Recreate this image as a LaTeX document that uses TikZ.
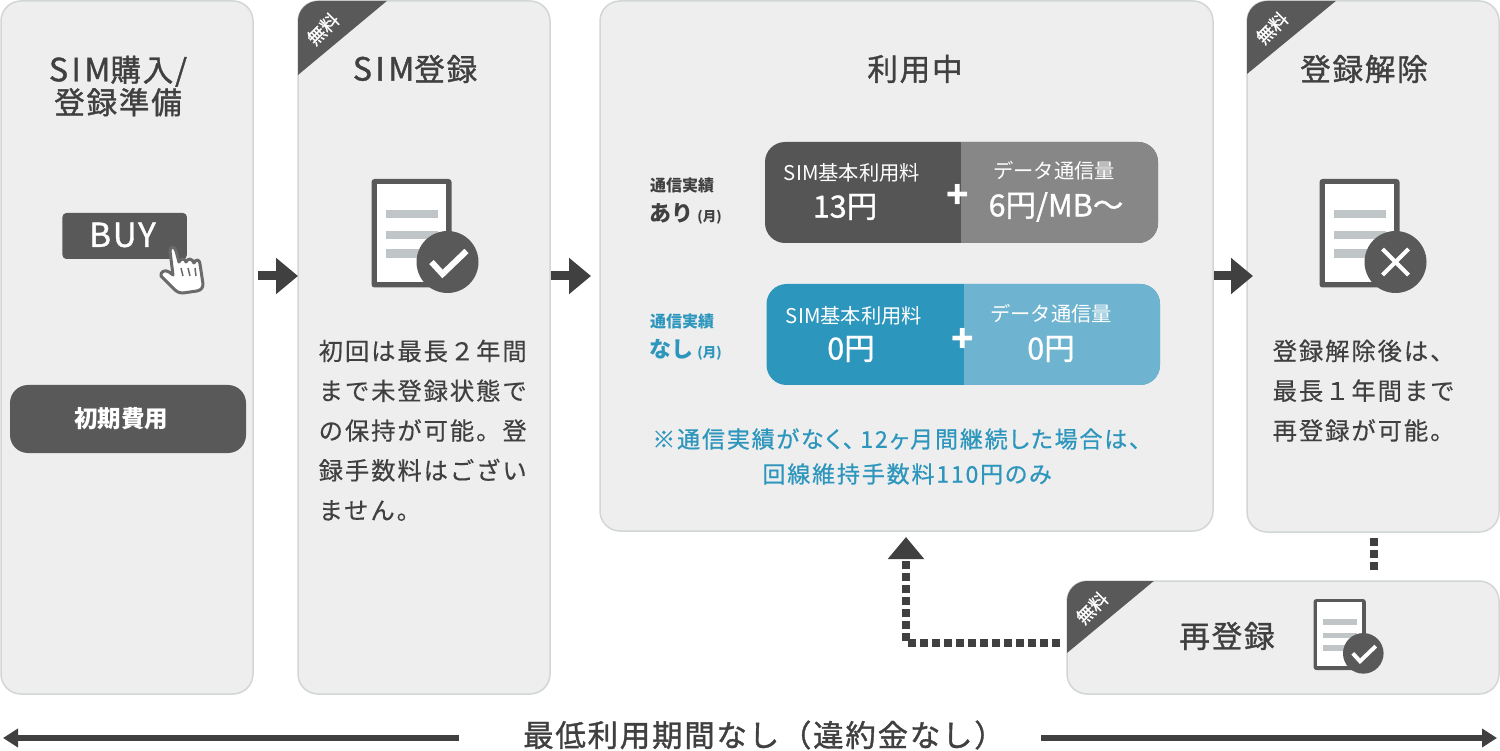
\documentclass[tikz,border=0pt]{standalone}
\usepackage{fontspec}
\setmainfont{Noto Sans CJK JP}
\newfontfamily\jptitle[LetterSpace=6,FakeBold=1.2]{Noto Sans CJK JP}
\newfontfamily\jpsim[LetterSpace=11,FakeBold=1.2]{Noto Sans CJK JP}
\newfontfamily\jpbody[LetterSpace=8,FakeBold=0.4]{Noto Sans CJK JP}
\newfontfamily\jpnote[LetterSpace=8,FakeBold=0.7,RawFeature=+palt]{Noto Sans CJK JP}
\newfontfamily\jpval[FakeBold=1]{Noto Sans CJK JP}
\usetikzlibrary{arrows.meta,calc}
\definecolor{cardfill}{HTML}{EEEEEE}
\definecolor{cardline}{HTML}{D2D6D6}
\definecolor{ink}{HTML}{404040}
\definecolor{dark}{HTML}{595959}
\definecolor{midgrey}{HTML}{878787}
\definecolor{blue1}{HTML}{2D96BD}
\definecolor{blue2}{HTML}{6EB3CF}
\definecolor{barline}{HTML}{C0C6C8}
\tikzset{
  card/.style={draw=cardline,fill=cardfill,line width=1.5pt,rounded corners=20pt,anchor=north west,inner sep=0pt,outer sep=0pt},
  title/.style={text=ink,font=\jptitle\fontsize{30.5}{33}\selectfont,align=center,inner sep=0pt},
  body/.style={text=ink,font=\jpbody\fontsize{24.3}{39.8}\selectfont,align=left,anchor=north west,inner sep=0pt},
  ribbon/.style={fill=dark,draw=none},
  free/.style={text=white,font=\jpval\fontsize{18}{18}\selectfont,rotate=45,inner sep=0pt},
  flow/.style={draw=ink,line width=9pt,-{Triangle[length=22pt,width=35pt]}},
  dots/.style={draw=ink,line width=8pt,dash pattern=on 8pt off 4pt},
  span/.style={draw=ink,line width=6pt,-{Triangle[length=15pt,width=18pt]}},
  pillhead/.style={text=white,font=\fontsize{20.3}{22}\selectfont,inner sep=0pt},
  pillval/.style={text=white,font=\jpval\fontsize{30.5}{32}\selectfont,inner sep=0pt},
  plusmark/.style={text=white,font=\bfseries\fontsize{37}{37}\selectfont,inner sep=0pt},
  tag/.style={font=\bfseries\fontsize{16}{17}\selectfont,inner sep=0pt},
  tagbig/.style={font=\bfseries\fontsize{22}{24}\selectfont,inner sep=0pt},
  tagsmall/.style={font=\bfseries\fontsize{13.5}{15}\selectfont,inner sep=0pt},
}
\newcommand{\simword}{{\jpsim\fontsize{32}{32}\selectfont SIM}}
\newcommand{\docicon}[4]{%
  \begin{scope}[shift={(#1,#2)},scale=#3]
    \fill[dark,rounded corners=3pt] (0,0) rectangle (80,108.5);
    \fill[white] (5.5,5) rectangle (74.5,103);
    \fill[barline] (14,31) rectangle (66,39.5);
    \fill[barline] (14,52) rectangle (66,60);
    \fill[barline] (14,70) rectangle (66,79);
    \fill[dark] (76,83) circle (31);
    \begin{scope}[shift={(76,83)}]
      #4
    \end{scope}
  \end{scope}}
\newcommand{\checkglyph}[1]{\draw[white,line width=#1*6pt] (-16,0) -- (-5,12) -- (19,-11);}
\newcommand{\crossglyph}[1]{\draw[white,line width=#1*4pt] (-13,-13) -- (13,13) (-13,13) -- (13,-13);}
\begin{document}
\begin{tikzpicture}[x=1pt,y=-1pt]
\useasboundingbox (0,0) rectangle (1500,751);
\fill[white] (0,0) rectangle (1500,751);
\coordinate (y276) at (0,276);
\coordinate (y643) at (0,643);
\coordinate (y738) at (0,738);
\coordinate (x906) at (906,0);
\coordinate (x1374) at (1374,0);
\coordinate (spanL) at (3,738);
\coordinate (spanR) at (1497,738);

% cards
\node[card,minimum width=252pt,minimum height=693pt] (card1) at (1,1) {};
\node[card,minimum width=252pt,minimum height=693pt] (card2) at (298,1) {};
\node[card,minimum width=613pt,minimum height=530pt] (card3) at (600,1) {};
\node[card,minimum width=252pt,minimum height=531pt] (card4) at (1247,1) {};
\node[card,minimum width=432pt,minimum height=113pt] (card5) at (1067,581) {};

% free ribbons
\begin{scope}
  \clip[rounded corners=20pt] (298,1) rectangle (550,694);
  \fill[ribbon] (298,0) -- (388,0) -- (298,75) -- cycle;
\end{scope}
\begin{scope}
  \clip[rounded corners=20pt] (1247,1) rectangle (1499,532);
  \fill[ribbon] (1247,0) -- (1337,0) -- (1247,74) -- cycle;
\end{scope}
\begin{scope}
  \clip[rounded corners=20pt] (1067,581) rectangle (1499,694);
  \fill[ribbon] (1067,580) -- (1155,580) -- (1067,653) -- cycle;
\end{scope}
\node[free] (free1) at (323,29) {無料};
\node[free] (free2) at (1272,28) {無料};
\node[free] (free3) at (1092,608) {無料};

% titles
\node[title] (t1) at (118,86) {\simword 購入/\\[-0.5pt]登録準備};
\node[title] (t2) at (415,69) {\simword 登録};
\node[title] (t3) at (915,69) {利用中};
\node[title] (t4) at (1364,69) {登録解除};
\node[title] (t5) at (1227,636) {再登録};

% card 1 content
\node[fill=dark,rounded corners=4pt,minimum width=124.5pt,minimum height=46pt,inner sep=0pt] (buy) at (124.7,236) {};
\node[text=white,inner sep=0pt,font=\jptitle\fontsize{33}{33}\selectfont] (buytext) at (122.5,235) {BUY};
\draw[fill=white,draw=dark!90,line width=3pt,line join=round]
  (170,251) .. controls (170,246) and (175,246) .. (176,251)
  -- (179,262) .. controls (181,258) and (185,258) .. (186,262)
  .. controls (188,258) and (192,258) .. (194,263)
  .. controls (196,258) and (200,260) .. (200,264)
  -- (203,284) .. controls (203,288) and (201,290) .. (197,291)
  -- (183,293) .. controls (178,293) and (176,291) .. (173,288)
  -- (161,276) .. controls (160,272) and (165,269) .. (169,272)
  -- (173,275) -- cycle;
\draw[draw=dark!90,line width=1.5pt] (181,268) -- (183,276) (188,268) -- (190,276) (195,268) -- (196,276);
\node[fill=dark,rounded corners=18pt,minimum width=236pt,minimum height=68pt,inner sep=0pt] (fee) at (128,419) {};
\node[text=white,inner sep=0pt,font=\bfseries\fontsize{23.5}{25}\selectfont] (feetext) at (121,419) {初期費用};

% icons
\docicon{371.5}{179}{1}{\checkglyph{1}}
\docicon{1319.5}{179}{1}{\crossglyph{1}}
\docicon{1313.5}{599}{0.655}{\checkglyph{0.655}}

% body text
\node[body] (b2) at (318.5,339.5) {初回は最長２年間\\まで未登録状態で\\の保持が可能。登\\録手数料はござい\\ません。};
\node[body] (b4) at (1272.5,339.5) {登録解除後は、\\最長１年間まで\\再登録が可能。};

% pills
\fill[dark!95!black,rounded corners=20pt] (765,142) rectangle (1158,243);
\begin{scope}
  \clip[rounded corners=20pt] (765,142) rectangle (1158,243);
  \fill[midgrey] (961,142) rectangle (1158,243);
\end{scope}
\fill[blue1,rounded corners=20pt] (766.5,284) rectangle (1160,385);
\begin{scope}
  \clip[rounded corners=20pt] (766.5,284) rectangle (1160,385);
  \fill[blue2] (964,284) rectangle (1160,385);
\end{scope}
\node[pillhead] (p1a) at (852,173) {SIM基本利用料};
\node[pillval] (p1b) at (845,207) {13円};
\node[pillhead] (p1c) at (1054,171) {データ通信量};
\node[pillval] (p1d) at (1056,207) {6円/MB〜};
\node[plusmark] (p1p) at (958,196) {+};
\node[pillhead] (p2a) at (854,316) {SIM基本利用料};
\node[pillval] (p2b) at (851,349) {0円};
\node[pillhead] (p2c) at (1051,314) {データ通信量};
\node[pillval] (p2d) at (1051,349) {0円};
\node[plusmark] (p2p) at (963,340) {+};

% row labels
\node[tag,text=ink] (l1a) at (682,185) {通信実績};
\node[tagbig,text=ink] (l1b) at (671,213) {あり};
\node[tagsmall,text=ink] (l1c) at (709.5,217) {(月)};
\node[tag,text=blue1] (l2a) at (682,321) {通信実績};
\node[tagbig,text=blue1] (l2b) at (671,349) {なし};
\node[tagsmall,text=blue1] (l2c) at (709.5,353) {(月)};

% note
\node[text=blue1,inner sep=0pt,font=\jpnote\fontsize{23}{25}\selectfont] (note1) at (896.5,439) {※通信実績がなく、\kern6pt 12ヶ月間継続した場合は、};
\node[text=blue1,inner sep=0pt,font=\jpnote\fontsize{23}{25}\selectfont] (note2) at (907,474) {回線維持手数料110円のみ};

% bottom label
\node[inner sep=0pt,text=ink,font=\jptitle\fontsize{30.4}{32}\selectfont] (period) at (764,735) {最低利用期間なし（違約金なし）};

% connectors
\draw[flow,shorten <=5pt] (card1.east |- y276) -- (card2.west |- y276);
\draw[flow,shorten <=1pt,shorten >=9pt] (card2.east |- y276) -- (card3.west |- y276);
\draw[flow,shorten <=1pt,shorten >=-6pt] (card3.east |- y276) -- (card4.west |- y276);
\draw[dots,shorten <=6pt,shorten >=8pt] (x1374 |- card4.south) -- (x1374 |- card5.north);
\draw[dots,shorten <=7pt,shorten >=6pt,-{Triangle[length=22pt,width=35pt]}] (card5.west |- y643) -- (x906 |- y643) -- (x906 |- card3.south);
\draw[span,shorten <=64pt] (period.west |- y738) -- (spanL);
\draw[span,shorten <=36pt] (period.east |- y738) -- (spanR);
\end{tikzpicture}
\end{document}
